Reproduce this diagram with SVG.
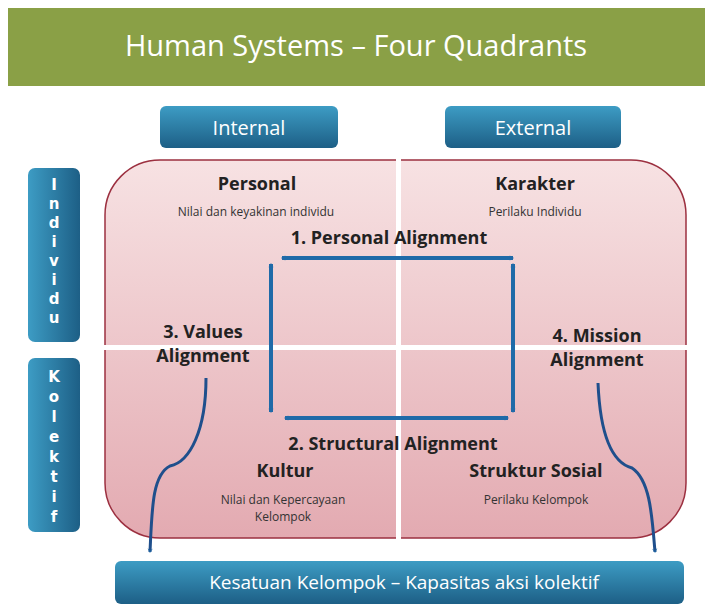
<svg xmlns="http://www.w3.org/2000/svg" width="713" height="609" viewBox="0 0 713 609">
<defs>
<linearGradient id="bl" x1="0" y1="0" x2="0" y2="1"><stop offset="0" stop-color="#3d9cc4"/><stop offset="1" stop-color="#1d5f86"/></linearGradient>
<linearGradient id="blv" x1="0" y1="0" x2="1" y2="0"><stop offset="0" stop-color="#3d9cc4"/><stop offset="1" stop-color="#1d5f86"/></linearGradient>
<linearGradient id="pk" x1="0" y1="0" x2="0" y2="1"><stop offset="0" stop-color="#f7e2e3"/><stop offset="1" stop-color="#e3aab1"/></linearGradient>
<marker id="ah" viewBox="0 0 10 10" refX="8" refY="5" markerWidth="4" markerHeight="4" orient="auto-start-reverse" markerUnits="userSpaceOnUse" style="overflow:visible"><path d="M0,0 L9,5 L0,10" fill="none" stroke="#1f6aa8" stroke-width="2"/></marker>
</defs>
<style>
.t{font-family:"Open Sans","DejaVu Sans",sans-serif;fill:#fff}
.h{font-family:"Open Sans","DejaVu Sans",sans-serif;font-weight:bold;fill:#222;font-size:18px;text-anchor:middle}
.s{font-family:"Open Sans","DejaVu Sans",sans-serif;fill:#333;font-size:12px;text-anchor:middle}
.v{font-family:"DejaVu Sans",sans-serif;font-weight:bold;fill:#fff;font-size:15px;text-anchor:middle}
.a{fill:none;stroke:#1f6aa8;stroke-width:4}
.c{fill:none;stroke:#1f4f8c;stroke-width:3}
</style>
<rect width="713" height="609" fill="#fff"/>
<g id="title"><rect x="8" y="8" width="697" height="78" fill="#8aa046"/><text class="t" x="356" y="56" font-size="29" text-anchor="middle">Human Systems – Four Quadrants</text></g>
<g id="internal"><rect x="160" y="106" width="178" height="42" rx="6" fill="url(#bl)"/><text class="t" x="249" y="135" font-size="20" text-anchor="middle">Internal</text></g>
<g id="external"><rect x="445" y="106" width="176" height="42" rx="6" fill="url(#bl)"/><text class="t" x="533" y="135" font-size="20" text-anchor="middle">External</text></g>
<g id="individu"><rect x="28" y="168" width="52" height="174" rx="7" fill="url(#blv)"/>
<text class="v"><tspan x="54" y="190">I</tspan><tspan x="54" y="209">n</tspan><tspan x="54" y="228">d</tspan><tspan x="54" y="247">i</tspan><tspan x="54" y="266">v</tspan><tspan x="54" y="285">i</tspan><tspan x="54" y="304">d</tspan><tspan x="54" y="323">u</tspan></text></g>
<g id="kolektif"><rect x="28" y="358" width="52" height="174" rx="7" fill="url(#blv)"/>
<text class="v"><tspan x="54" y="382">K</tspan><tspan x="54" y="402">o</tspan><tspan x="54" y="422">l</tspan><tspan x="54" y="442">e</tspan><tspan x="54" y="462">k</tspan><tspan x="54" y="482">t</tspan><tspan x="54" y="502">i</tspan><tspan x="54" y="522">f</tspan></text></g>
<g id="quadrants"><rect x="105" y="160" width="581" height="378" rx="55" fill="url(#pk)" stroke="#9c3040" stroke-width="1.5"/>
<rect x="396" y="159" width="5" height="381" fill="#fff"/><rect x="104" y="345" width="583" height="5" fill="#fff"/></g>
<g id="labels">
<text class="h" x="257" y="190">Personal</text><text class="s" x="256" y="216">Nilai dan keyakinan individu</text>
<text class="h" x="535" y="190">Karakter</text><text class="s" x="535" y="216">Perilaku Individu</text>
<text class="h" x="389" y="244">1. Personal Alignment</text>
<text class="h" x="203" y="338">3. Values</text><text class="h" x="203" y="362">Alignment</text>
<text class="h" x="597" y="342">4. Mission</text><text class="h" x="597" y="366">Alignment</text>
<text class="h" x="393" y="450">2. Structural Alignment</text>
<text class="h" x="285" y="477">Kultur</text><text class="s" x="283" y="504">Nilai dan Kepercayaan</text><text class="s" x="283" y="521">Kelompok</text>
<text class="h" x="536" y="477">Struktur Sosial</text><text class="s" x="536" y="504">Perilaku Kelompok</text>
</g>
<g id="connectors">
<line class="a" x1="282" y1="258" x2="513" y2="258" marker-start="url(#ah)" marker-end="url(#ah)"/>
<line class="a" x1="271" y1="264" x2="271" y2="412" marker-start="url(#ah)" marker-end="url(#ah)"/>
<line class="a" x1="513" y1="264" x2="513" y2="412" marker-start="url(#ah)" marker-end="url(#ah)"/>
<line class="a" x1="285" y1="418" x2="508" y2="418" marker-start="url(#ah)" marker-end="url(#ah)"/>
<path class="c" d="M206,378 C206,430 190,462 170,466 C152,475 152,510 150,552" marker-end="url(#ah)"/>
<path class="c" d="M598,383 C600,430 610,462 632,468 C650,480 652,515 655,552" marker-end="url(#ah)"/>
</g>
<g id="bottom"><rect x="115" y="561" width="569" height="43" rx="6" fill="url(#bl)"/><text class="t" x="404" y="589" font-size="19" text-anchor="middle">Kesatuan Kelompok – Kapasitas aksi kolektif</text></g>
</svg>
